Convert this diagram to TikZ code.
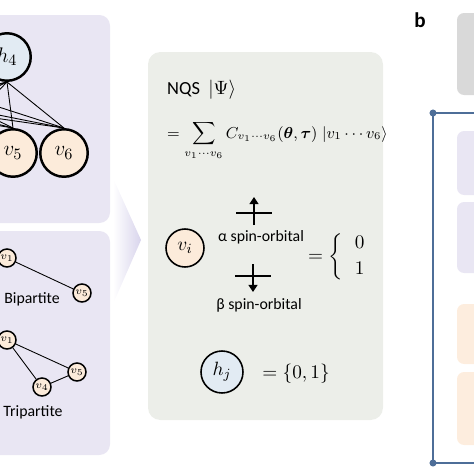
\documentclass[tikz,border=0pt]{standalone}
\usepackage{fontspec}
\setmainfont{Carlito}
\usepackage{amsmath}
\usetikzlibrary{arrows.meta}

\definecolor{lav}{RGB}{233,230,243}
\definecolor{chev}{RGB}{216,212,236}
\definecolor{nqsbg}{RGB}{236,238,233}
\definecolor{peach}{RGB}{252,235,218}
\definecolor{pale}{RGB}{226,235,243}
\definecolor{frameblue}{RGB}{78,110,152}
\definecolor{greybox}{RGB}{217,217,217}
\definecolor{peachbox}{RGB}{253,237,222}

\begin{document}
\begin{tikzpicture}[x=0.02cm,y=-0.02cm]
   \tikzstyle{panel}=[fill=lav,draw=none,rounded corners=6pt]
   \tikzstyle{bign}=[circle,draw,line width=1.4pt,minimum size=0.95cm,inner sep=0pt,font=\fontsize{13}{14}\selectfont]
   \tikzstyle{smalln}=[circle,draw,line width=0.85pt,fill=peach,minimum size=0.36cm,inner sep=0pt,font=\fontsize{6}{7}\selectfont]
   \tikzstyle{edge}=[line width=0.5pt]
   \tikzstyle{spin}=[line width=1.4pt]
   \tikzstyle{lbl}=[font=\fontsize{9}{10}\selectfont]

   \useasboundingbox (0,0) rectangle (474,474) ;
   \clip (0,0) rectangle (474,474) ;

   % left panels
   \draw [panel] (-20,15) rectangle (110,223) ;
   \draw [panel] (-20,231) rectangle (110,455) ;

   \foreach \i/\x in {1/-269,2/-177,3/-85}
      \coordinate (h\i) at (\x,80) ;
   \foreach \j/\x in {1/-191,2/-140,3/-89,4/-38}
      \coordinate (v\j) at (\x,129) ;
   \node (h4) [bign,fill=pale] at (7,57) {$h_4$} ;
   \node (v5) [bign,fill=peach] at (13,153) {$v_5$} ;
   \node (v6) [bign,fill=peach] at (64,153) {$v_6$} ;
   \foreach \i in {1,2,3} {
      \draw [edge] (h\i) -- (v5.north) ;
      \draw [edge] (h\i) -- (v6.north) ; }
   \foreach \j in {1,...,4}
      \draw [edge] (h4.south) -- (v\j) ;
   \draw [edge] (h4.south) -- (v5.north) ;
   \draw [edge] (h4.south) -- (v6.north) ;

   \node (b1) [smalln] at (7,258) {$v_1$} ;
   \node (b5) [smalln] at (82,293) {$v_5$} ;
   \draw [edge] (b1) -- (b5) ;
   \node (bip) [lbl] at (32,299) {Bipartite} ;

   \node (t1) [smalln] at (7,340) {$v_1$} ;
   \node (t5) [smalln] at (77,372) {$v_5$} ;
   \node (t4) [smalln] at (42,387) {$v_4$} ;
   \draw [edge] (t1) -- (t5) ;
   \draw [edge] (t1) -- (t4) ;
   \draw [edge] (t4) -- (t5) ;
   \node (tri) [lbl] at (33,412) {Tripartite} ;

   % chevron
   \shade [left color=white,right color=chev] (113,178) -- (141,240) -- (113,304) -- cycle ;

   % NQS panel
   \draw [fill=nqsbg,draw=none,rounded corners=7pt] (148,52) rectangle (383,420) ;
   \node (nqs) [anchor=west,font=\fontsize{10.5}{12}\selectfont] at (161,90) {NQS\ \ $|\Psi\rangle$} ;
   \node (psi) [anchor=base west,font=\fontsize{9.2}{11}\selectfont] at (161,138)
      {$\displaystyle =\sum_{v_1\cdots v_6} C_{v_1\cdots v_6}(\boldsymbol{\theta},\boldsymbol{\tau})\;|v_1\cdots v_6\rangle$} ;

   \coordinate (aup) at (254,213) ;
   \coordinate (adn) at (253,276) ;
   \draw [spin] (aup) ++(-18,0) -- ++(36,0) ;
   \draw [spin,-{Triangle[width=5pt,length=4pt]}] (aup) ++(0,12) -- ++(0,-28) ;
   \draw [spin] (adn) ++(-18,0) -- ++(36,0) ;
   \draw [spin,-{Triangle[width=5pt,length=4pt]}] (adn) ++(0,-12) -- ++(0,28) ;
   \node (alpha) [lbl] at (261,237) {α spin-orbital} ;
   \node (beta) [lbl] at (259,305) {β spin-orbital} ;

   \node (vi) [circle,draw,line width=0.9pt,fill=peach,minimum size=0.76cm,inner sep=0pt,font=\fontsize{11}{12}\selectfont] at (185,248) {$v_i$} ;
   \node (occ) [anchor=west,font=\fontsize{11}{12}\selectfont] at (302,257)
      {$=\left\{\,\begin{array}{l}0\\[3pt]1\end{array}\right.$} ;

   \node (hj) [circle,draw,line width=0.9pt,fill=pale,minimum size=0.84cm,inner sep=0pt,font=\fontsize{11}{12}\selectfont] at (222,372) {$h_j$} ;
   \node (hset) [font=\fontsize{11}{12}\selectfont] at (296,374) {$=\{0,1\}$} ;

   % panel b
   \node (b) [font=\fontsize{12}{14}\selectfont\bfseries] at (420,20) {b} ;
   \draw [fill=greybox,draw=none,rounded corners=4pt] (457,13) rectangle (495,95) ;
   \coordinate (f1) at (495,113) ;
   \coordinate (f2) at (495,463) ;
   \node (ftop) [circle,fill=frameblue,inner sep=0pt,minimum size=4pt] at (433,113) {} ;
   \node (fbot) [circle,fill=frameblue,inner sep=0pt,minimum size=4pt] at (433,463) {} ;
   \draw [frameblue,line width=1.3pt] (f1) -- (ftop.center) -- (fbot.center) -- (f2) ;
   \draw [fill=lav,draw=none,rounded corners=4pt] (457,131) rectangle (495,195) ;
   \draw [fill=lav,draw=none,rounded corners=4pt] (457,202) rectangle (495,273) ;
   \draw [fill=peachbox,draw=none,rounded corners=4pt] (457,304) rectangle (495,364) ;
   \draw [fill=peachbox,draw=none,rounded corners=4pt] (457,372) rectangle (495,445) ;
\end{tikzpicture}
\end{document}
